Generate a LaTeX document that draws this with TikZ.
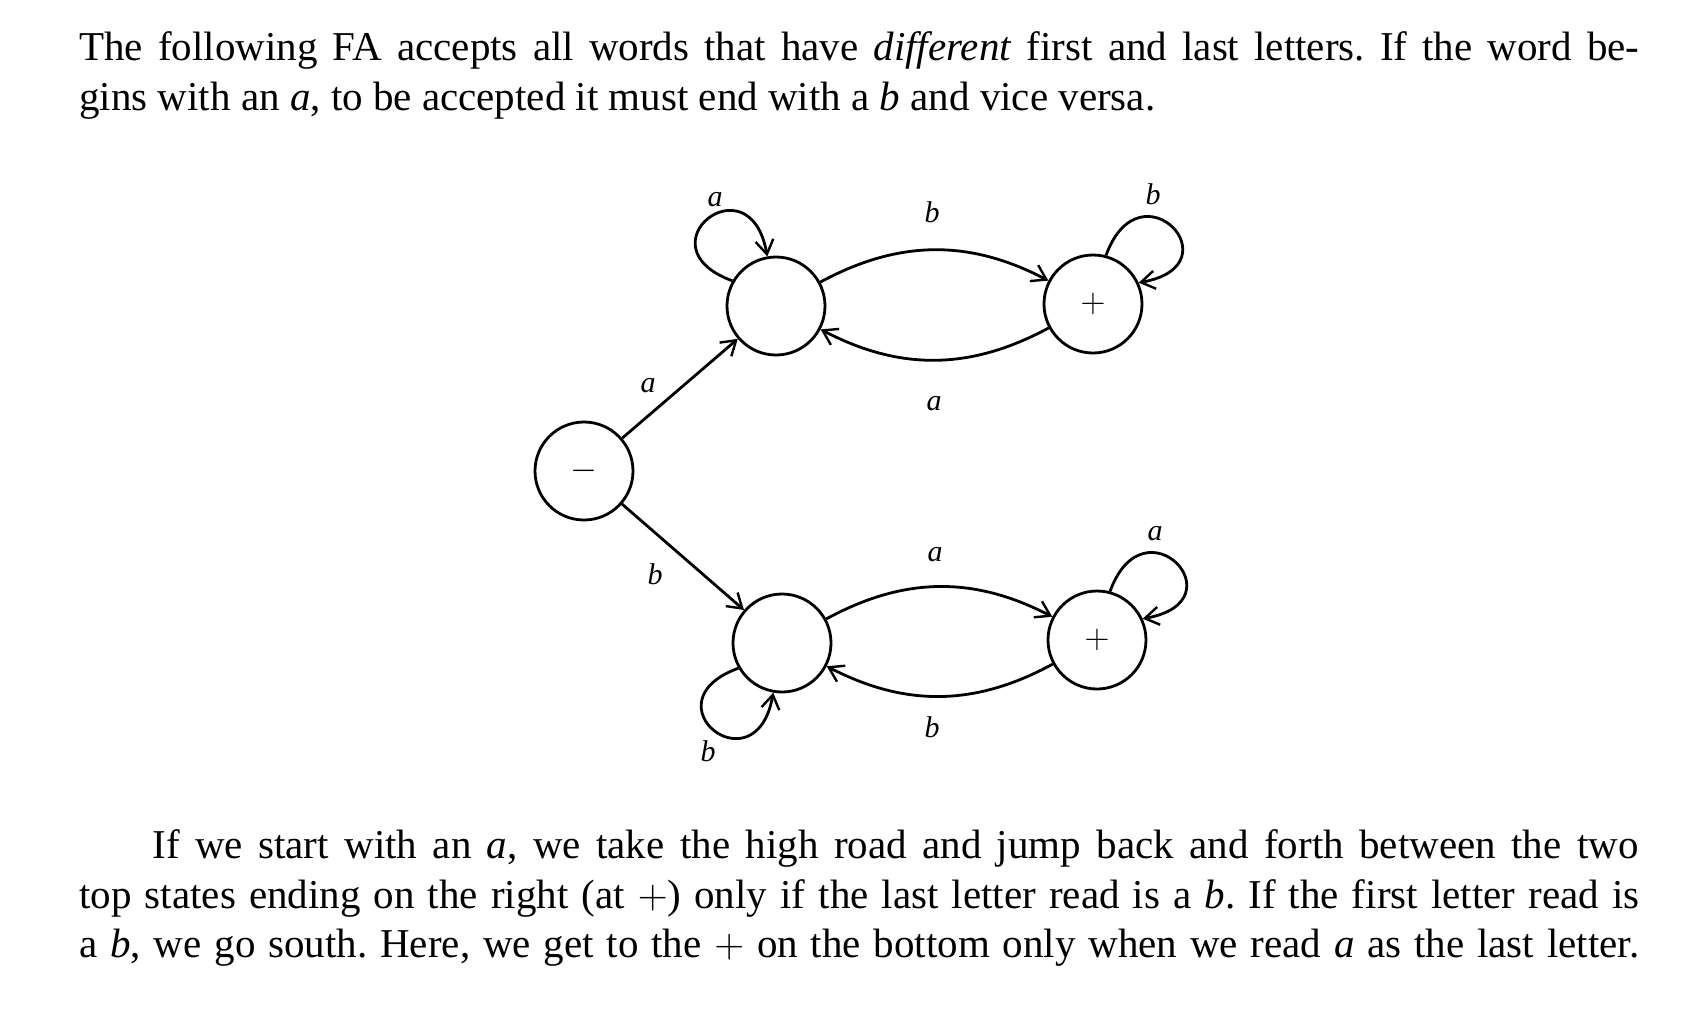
\documentclass[tikz,border=0pt]{standalone}
\usepackage{fontspec}
\setmainfont{Liberation Serif}
\usetikzlibrary{arrows.meta}
\begin{document}
\frenchspacing
\begin{tikzpicture}[x=0.5pt,y=-0.5pt,
  st/.style={circle,draw,line width=1.4pt,minimum size=49pt,inner sep=0pt,font=\fontsize{17}{17}\selectfont},
  tr/.style={line width=1.4pt,-{Straight Barb[length=7pt,width=9pt,line width=1.2pt]}},
  lb/.style={font=\fontsize{15}{15}\selectfont\itshape},
  tx/.style={anchor=base west,inner sep=0pt,font=\fontsize{20.5}{25}\selectfont}]
\useasboundingbox (0,0) rectangle (1698,1014);
\node[tx] (t1) at (79,60) {\hbox to 780pt{The following FA accepts all words that have \textit{different} first and last letters. If the word be-}};
\node[tx] (t2) at (79,110) {gins with an \textit{a}, to be accepted it must end with a \textit{b} and vice versa.};
\node[tx] (p1) at (152,858) {\hbox to 743pt{If we start with an \textit{a}, we take the high road and jump back and forth between the two}};
\node[tx] (p2) at (79,908) {\hbox to 780pt{top states ending on the right (at $+$) only if the last letter read is a \textit{b}. If the first letter read is}};
\node[tx] (p3) at (79,957) {\hbox to 780pt{a \textit{b}, we go south. Here, we get to the $+$ on the bottom only when we read \textit{a} as the last letter.}};

\node[st] (s) at (584,471) {$-$};
\node[st] (tl) at (776,306) {};
\node[st] (tr) at (1093,304) {$+$};
\node[st] (bl) at (782,643) {};
\node[st] (br) at (1097,640) {$+$};

\draw[tr] (s) -- (tl);
\draw[tr] (s) -- (bl);
\draw[tr] (tl) to[bend left=28] (tr);
\draw[tr] (tr) to[bend left=28] (tl);
\draw[tr] (bl) to[bend left=28] (br);
\draw[tr] (br) to[bend left=28] (bl);
\draw[tr] (tl.150) to[out=160,in=100,looseness=6] (tl.100);
\draw[tr] (bl.210) to[out=200,in=-100,looseness=6] (bl.-100);
\draw[tr] (tr.75) to[out=70,in=10,looseness=6] (tr.25);
\draw[tr] (br.75) to[out=70,in=10,looseness=6] (br.25);

\node[lb] (la1) at (715,200) {a};
\node[lb] (lb1) at (932,212) {b};
\node[lb] (lb2) at (1153,194) {b};
\node[lb] (la2) at (934,404) {a};
\node[lb] (la3) at (648,386) {a};
\node[lb] (lb3) at (655,574) {b};
\node[lb] (la4) at (935,555) {a};
\node[lb] (la5) at (1155,534) {a};
\node[lb] (lb4) at (932,727) {b};
\node[lb] (lb5) at (708,751) {b};
\end{tikzpicture}
\end{document}
